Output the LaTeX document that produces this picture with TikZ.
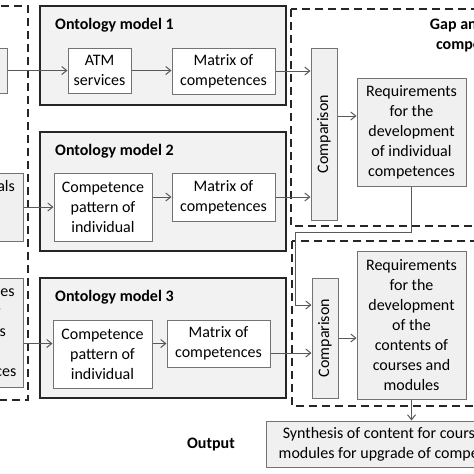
\documentclass[tikz,border=0pt]{standalone}
\usepackage{fontspec}
\setmainfont{Carlito}
\usetikzlibrary{arrows.meta,positioning}

\tikzset{
  every node/.style={font=\fontsize{16}{20}\selectfont, text=black},
  title/.style={font=\fontsize{16}{20}\selectfont\bfseries, inner sep=0pt},
  onto/.style={draw=black!85, line width=1.6pt, fill=gray!10, inner sep=0pt},
  inbox/.style={draw=gray!90!black, line width=1pt, fill=white, inner sep=0pt, align=center},
  graybox/.style={draw=gray!90!black, line width=1pt, fill=gray!12, inner sep=0pt, align=center},
  frame/.style={draw=black!85, line width=2pt, dash pattern=on 8pt off 5pt},
  arr/.style={draw=black!65, line width=1pt, -{Straight Barb[length=5pt,width=8pt]}},
}

\begin{document}
\begin{tikzpicture}[x=1pt, y=-1pt]

\useasboundingbox (0,0) rectangle (474,474);
\clip (0,0) rectangle (474,474);
\fill[white] (0,0) rectangle (474,474);

% dashed frames
\draw[frame] (-140,6) rectangle (28,400);
\draw[frame] (291,9) rectangle (545,226);
\draw[frame] (292,241) rectangle (545,406);
\node[title, align=center] (gap) at (480,35) {Gap analysis of\\competences};

% inputs on the left
\node[graybox, minimum width=114, minimum height=45] (in1) at (-50,70.5) {};
\node[graybox, minimum width=86, minimum height=68] (in2) at (-20,207) {Individuals\\(ATM\\staff)};
\node[graybox, minimum width=119, minimum height=109] (in3) at (-36.5,332.5) {Existing courses\\of study for\\ATM services\\and\\its competences};

% three ontology models
\foreach \i/\y/\h in {1/55.5/99, 2/191.5/119, 3/338/120} {
    \node[onto, minimum width=246, minimum height=\h] (onto\i) at (163,\y) {};
}
\foreach \i/\y in {1/25, 2/151, 3/297} {
    \node[title, anchor=west] (ontolab\i) at (55,\y) {Ontology model \i};
}

\node[inbox, minimum width=63, minimum height=45] (atm) at (99.5,70.5) {ATM\\services};
\node[inbox, minimum width=103, minimum height=46] (mat1) at (223.5,71) {Matrix of\\competences};
\node[inbox, minimum width=98, minimum height=68] (pat2) at (103,207) {Competence\\pattern of\\individual};
\node[inbox, minimum width=103, minimum height=48] (mat2) at (223.5,197) {Matrix of\\competences};
\node[inbox, minimum width=99, minimum height=68] (pat3) at (102.5,354) {Competence\\pattern of\\individual};
\node[inbox, minimum width=103, minimum height=47] (mat3) at (218.5,343.5) {Matrix of\\competences};

% gap analysis
\node[graybox, minimum width=26, minimum height=172] (cmp1) at (324,134) {\rotatebox{90}{Comparison}};
\node[graybox, minimum width=26, minimum height=120] (cmp2) at (325,338) {\rotatebox{90}{Comparison}};
\node[graybox, minimum width=109, minimum height=108] (req1) at (411.5,132) {Requirements\\for the\\development\\of individual\\competences};
\node[graybox, minimum width=109, minimum height=148] (req2) at (411.5,325) {Requirements\\for the\\development\\of the\\contents of\\courses and\\modules};

% output
\node[graybox, minimum width=268, minimum height=46] (syn) at (400,444) {Synthesis of content for courses and\\modules for upgrade of competences};
\node[title] (out) at (211,445) {Output};

% connectors
\draw[arr] (in1) -- (atm);
\draw[arr] (atm.east) -- (atm.east -| mat1.west);
\draw[arr] (mat1.east) -- (mat1.east -| cmp1.west);
\draw[arr] (in2) -- (pat2);
\draw[arr] (pat2.east |- mat2) -- (mat2.west);
\draw[arr] (mat2.east) -- (mat2.east -| cmp1.west);
\draw[arr] ([yshift=18pt]cmp1.east) -- ([yshift=18pt]cmp1.east -| req1.west);
\coordinate (bend) at (295,232);
\draw[arr] (req1.south) |- (bend) |- ([yshift=33pt]cmp2.west);
\draw[arr] (in3.east |- mat3) -- (pat3.west |- mat3);
\draw[arr] (pat3.east |- mat3) -- (mat3.west);
\draw[arr] ([yshift=-9.5pt]mat3.east) -- ([yshift=-9.5pt]mat3.east -| cmp2.west);
\draw[arr] (cmp2.east) -- (cmp2.east -| req2.west);
\draw[arr] (req2.south) -- (req2.south |- syn.north);

\end{tikzpicture}
\end{document}
